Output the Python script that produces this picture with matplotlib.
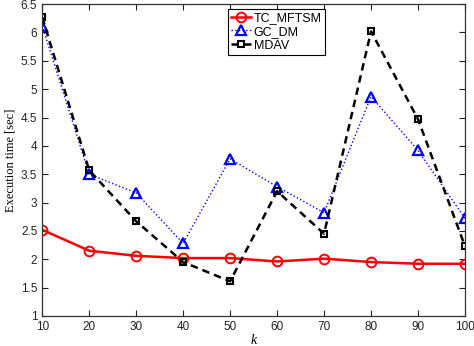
import matplotlib
matplotlib.use("Agg")
import matplotlib.pyplot as plt

k = [10, 20, 30, 40, 50, 60, 70, 80, 90, 100]
tc_mftsm = [2.52, 2.15, 2.06, 2.02, 2.02, 1.96, 2.01, 1.95, 1.92, 1.92]
gc_dm = [6.12, 3.50, 3.17, 2.28, 3.77, 3.28, 2.82, 4.87, 3.92, 2.72]
mdav = [6.27, 3.57, 2.67, 1.95, 1.61, 3.20, 2.45, 6.02, 4.47, 2.23]
yticks = [1, 1.5, 2, 2.5, 3, 3.5, 4, 4.5, 5, 5.5, 6, 6.5]
ytick_labels = ["1", "1.5", "2", "2.5", "3", "3.5", "4", "4.5", "5", "5.5", "6", "6.5"]

plt.rcParams["font.family"] = "sans-serif"
plt.rcParams["font.sans-serif"] = ["Liberation Sans", "DejaVu Sans"]

fig = plt.figure(figsize=(4.74, 3.46), dpi=100)
ax = fig.add_axes([0.089, 0.087, 0.892, 0.901])

ax.plot(k, tc_mftsm, color="red", linestyle="-", linewidth=1.8, marker="o",
        markersize=7, markerfacecolor="none", markeredgewidth=1.4, label="TC_MFTSM")
ax.plot(k, gc_dm, color="blue", linestyle=":", linewidth=1.0, marker="^",
        markersize=7.5, markerfacecolor="none", markeredgewidth=1.6, label="GC_DM")
ax.plot(k, mdav, color="black", linestyle="--", linewidth=1.8, marker="s",
        markersize=5, markerfacecolor="none", markeredgewidth=1.5, label="MDAV",
        dashes=(3, 2))

ax.set_xlim(10, 100)
ax.set_ylim(1, 6.5)
ax.set_xticks(k)
ax.set_yticks(yticks)
ax.set_yticklabels(ytick_labels)
ax.tick_params(direction="in", top=True, right=True, labelsize=8.5, length=4,
               width=0.8, colors="#222222")
for s in ax.spines.values():
    s.set_linewidth(0.9)
    s.set_color("#333333")

ax.set_ylabel("Execution time [sec]", family="Liberation Serif", fontsize=9, labelpad=3)
ax.set_xlabel("k", family="Liberation Serif", style="italic", fontsize=10, labelpad=1)

leg = ax.legend(loc="upper left", bbox_to_anchor=(0.44, 0.985), fontsize=9,
                fancybox=False, edgecolor="black", framealpha=1,
                handlelength=1.6, borderpad=0.25, labelspacing=0.15,
                handletextpad=0.2, borderaxespad=0)
leg.get_frame().set_linewidth(0.8)

fig.savefig("out.png", dpi=100)
